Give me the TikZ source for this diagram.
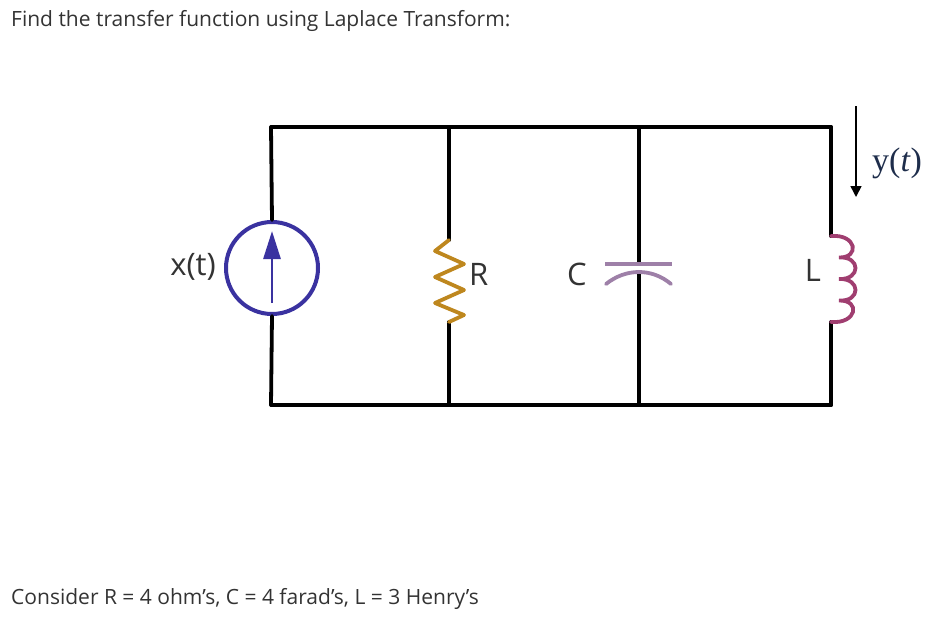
\documentclass[tikz,border=0pt]{standalone}
\usepackage{fontspec}
\setmainfont{Open Sans}
\newfontfamily\timesfont{Liberation Serif}
\usepackage{tikz}
\usetikzlibrary{arrows.meta}

\definecolor{srcblue}{RGB}{58,50,160}
\definecolor{resgold}{RGB}{190,135,30}
\definecolor{caplilac}{RGB}{158,128,168}
\definecolor{indplum}{RGB}{160,62,112}
\definecolor{txtgray}{RGB}{51,51,51}

\begin{document}
\begin{tikzpicture}[x=1pt, y=-1pt,
        wire/.style={line width=3.8pt, line cap=round},
        txt/.style={inner sep=0pt, text=txtgray, font=\fontsize{21}{25}\selectfont},
        lbl/.style={inner sep=0pt, text=txtgray, font=\fontsize{31}{35}\selectfont}]
        \useasboundingbox (0,0) rectangle (939,619);
        \node[txt, anchor=base west] (title) at (11,26) {Find the transfer function using Laplace Transform:};
        \node[txt, anchor=base west] (given) at (11,604) {Consider R = 4 ohm’s, C = 4 farad’s, L = 3 Henry’s};
        % corners and junctions
        \coordinate (tl) at (271,127);
        \coordinate (tr) at (831,127);
        \coordinate (bl) at (271,405);
        \coordinate (br) at (831,405);
        \coordinate (rt) at (449,127);
        \coordinate (rb) at (449,405);
        \coordinate (ct) at (639,127);
        \coordinate (cb) at (639,405);
        \draw[wire] (tl) -- (tr);
        \draw[wire] (bl) -- (br);
        % source
        \node[circle, draw=srcblue, line width=4pt, minimum size=92pt, inner sep=0pt] (src) at (272,268) {};
        \draw[wire] (tl) -- (src.north);
        \draw[wire] (src.south) -- (bl);
        \draw[srcblue, line width=2.8pt, -{Triangle[length=28pt,width=17pt]}] ([yshift=-35pt]src.center) -- ([yshift=37pt]src.center);
        \node[lbl, anchor=east] (xlab) at (216,267) {x(t)};
        % resistor
        \coordinate (ra) at (449,240);
        \coordinate (rz) at (449,322);
        \draw[wire] (rt) -- (ra);
        \draw[wire] (rz) -- (rb);
        \draw[resgold, line width=3.8pt, line join=round, line cap=round] (ra) -- (435,251) -- (464,264) -- (435,277) -- (464,290) -- (435,303) -- (464,315) -- (rz);
        \node[lbl, anchor=west] (rlab) at (469,274) {R};
        % capacitor
        \coordinate (ca) at (639,264);
        \coordinate (cz) at (639,272);
        \draw[wire] (ct) -- (ca);
        \draw[wire] (cz) -- (cb);
        \draw[caplilac, line width=3.8pt] (605,264) -- (672,264);
        \draw[caplilac, line width=3.8pt, line cap=round] (606,284) .. controls (626,268) and (652,268) .. (671,284);
        \node[lbl] (clab) at (577,274) {C};
        % inductor
        \coordinate (la) at (831,236);
        \coordinate (lz) at (831,322);
        \draw[wire] (tr) -- (la);
        \draw[wire] (lz) -- (br);
        \draw[indplum, line width=3.8pt, line cap=round] (la) .. controls (857,234) and (860,258) .. (839,257.5)
            .. controls (861,256) and (861,280) .. (839,279)
            .. controls (861,278) and (861,302) .. (839,300.5)
            .. controls (861,300) and (857,324) .. (lz);
        \node[lbl] (llab) at (813,270) {L};
        % output
        \coordinate (ya) at (856,106);
        \coordinate (yz) at (856,197);
        \draw[line width=1.6pt, -{Triangle[length=11pt,width=11pt]}] (ya) -- (yz);
        \node[anchor=west, inner sep=0pt, text={rgb,255:red,30;green,45;blue,75}, font=\timesfont\fontsize{34}{38}\selectfont] (ylab) at (872,163) {y(\textit{t})};
\end{tikzpicture}
\end{document}
